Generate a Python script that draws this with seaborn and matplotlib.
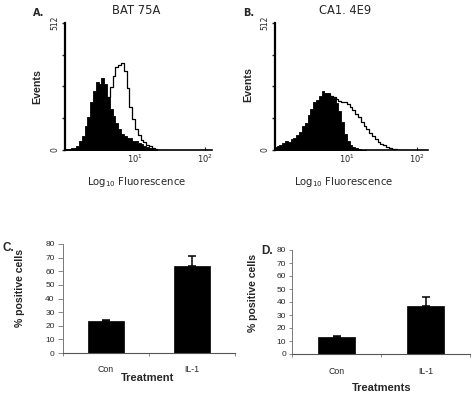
import numpy as np
import pandas as pd
import matplotlib
matplotlib.use("Agg")
import matplotlib.pyplot as plt
import seaborn as sns

# ---------------- data ----------------
bin_width = 0.04  # width of histogram channels in log10 units

# Panel A (BAT 75A): channel counts starting at log10 = 0.00
a_start = 0.0
a_filled = [5, 4, 7, 9, 17, 36, 56, 97, 133, 192, 238, 274, 266, 292, 268, 214, 166,
            138, 108, 86, 64, 58, 50, 47, 38, 35, 27, 23, 17, 12, 8, 3, 0]
a_open = [2, 2, 3, 4, 6, 10, 15, 22, 30, 40, 52, 68, 90, 115, 150, 214, 252, 298, 336,
          344, 352, 318, 248, 172, 124, 84, 62, 42, 31, 22, 15, 8, 4, 0]

# Panel B (CA1. 4E9): channel counts starting at log10 = -0.04
b_start = -0.04
b_filled = [12, 18, 22, 30, 36, 34, 44, 50, 62, 74, 98, 110, 142, 166, 192, 202, 218,
            236, 228, 230, 216, 210, 190, 158, 112, 66, 38, 20, 12, 8, 5, 2, 0]
b_open = [4, 6, 8, 10, 12, 15, 18, 22, 28, 36, 45, 55, 68, 85, 105, 125, 150, 175, 205,
          224, 219, 214, 204, 198, 195, 192, 186, 172, 160, 146, 133, 112, 98, 85, 70,
          56, 45, 34, 25, 19, 13, 10, 6, 3, 0]

hist_yticks = [0, 128, 256, 384, 512]
hist_yticklabels = ["0", "", "", "", "512"]
hist_xticks = [1, 2]
hist_xticklabels = [r"$10^1$", r"$10^2$"]

categories = ["Con", "IL-1"]
c_means = [23.5, 64.0]
c_err = [0.9, 7.4]
d_means = [13.0, 37.0]
d_err = [1.1, 6.9]
bar_yticks = [0, 10, 20, 30, 40, 50, 60, 70, 80]

# ---------------- figure ----------------
sns.set_theme(style="white")
plt.rcParams['font.family'] = ['DejaVu Sans']
plt.rcParams['mathtext.fontset'] = 'dejavusans'

W, H = 474, 394
fig = plt.figure(figsize=(W / 100, H / 100), dpi=100)
fig.patch.set_facecolor("white")


def box(x0, y_top, x1, y_bot):
    return [x0 / W, 1 - y_bot / H, (x1 - x0) / W, (y_bot - y_top) / H]


def ftxt(x, y, s, **kw):
    fig.text(x / W, 1 - y / H, s, ha="center", va="center", **kw)


def hist_panel(ax, start, filled, opened, xlim):
    nf = len(filled)
    no = len(opened)
    edges_f = [start + i * bin_width for i in range(nf + 1)]
    edges_o = [start + i * bin_width for i in range(no + 1)]
    cent_f = [start + (i + 0.5) * bin_width for i in range(nf)]
    cent_o = [start + (i + 0.5) * bin_width for i in range(no)]
    sns.histplot(x=cent_f, weights=filled, bins=edges_f, element="step", fill=True,
                 color="black", alpha=1, linewidth=0.6, edgecolor="black", ax=ax)
    sns.histplot(x=cent_o, weights=opened, bins=edges_o, element="step", fill=False,
                 color="black", linewidth=0.9, ax=ax)
    ax.set_xlim(*xlim)
    ax.set_ylim(0, 512)
    ax.set_xlabel("")
    ax.set_ylabel("")
    ax.set_yticks(hist_yticks)
    ax.set_yticklabels(hist_yticklabels, rotation=90, va="center", fontsize=5.5)
    ax.set_xticks(hist_xticks)
    ax.set_xticklabels(hist_xticklabels, fontsize=6)
    ax.tick_params(axis="y", direction="out", length=2.5, width=1.0, pad=1.5, left=True)
    ax.tick_params(axis="x", direction="in", length=2.5, width=0.8, pad=2, bottom=True)
    for s in ["top", "right"]:
        ax.spines[s].set_visible(False)
    ax.spines["left"].set_linewidth(1.6)
    ax.spines["left"].set_color("black")
    ax.spines["bottom"].set_linewidth(1.2)
    ax.spines["bottom"].set_color("black")
    ax.set_facecolor("white")


axA = fig.add_axes(box(65, 23, 212, 150))
hist_panel(axA, a_start, a_filled, a_open, (0.0, 2.1))
axB = fig.add_axes(box(275, 23, 428, 150))
hist_panel(axB, b_start, b_filled, b_open, (-0.024, 2.16))

# histogram texts
ftxt(136, 10, "BAT 75A", fontsize=8.3)
ftxt(345, 10, "CA1. 4E9", fontsize=8.3)
ftxt(39, 13, "A.", fontsize=7, fontweight="bold")
ftxt(249, 13, "B.", fontsize=7, fontweight="bold")
ftxt(37, 87, "Events", fontsize=7.7, fontweight="bold", rotation=90,
     family=["Liberation Sans"])
ftxt(248, 85, "Events", fontsize=7.7, fontweight="bold", rotation=90,
     family=["Liberation Sans"])
ftxt(137, 182, r"Log$_{10}$ Fluorescence", fontsize=7.3)
ftxt(344, 182, r"Log$_{10}$ Fluorescence", fontsize=7.3)


def bar_panel(ax, means, errs, tick_len, tick_pad):
    df = pd.DataFrame({"cat": categories, "val": means})
    sns.barplot(data=df, x="cat", y="val", color="black", saturation=1, width=0.42,
                edgecolor="black", linewidth=0.5, ax=ax)
    ax.errorbar(x=[0, 1], y=means, yerr=[[0, 0], errs], fmt="none", ecolor="black",
                elinewidth=1.1, capsize=2.8, capthick=1.1)
    ax.set_xlim(-0.5, 1.5)
    ax.set_ylim(0, 80)
    ax.set_xlabel("")
    ax.set_ylabel("")
    ax.set_yticks(bar_yticks)
    ax.set_yticklabels([str(v) for v in bar_yticks], fontsize=6,
                       family=["Liberation Sans"])
    ax.set_xticks([0, 1])
    ax.set_xticklabels(categories, fontsize=6.3, family=["Liberation Sans"])
    ax.set_xticks([-0.5, 0.5, 1.5], minor=True)
    ax.tick_params(axis="x", which="major", length=0, pad=9)
    ax.tick_params(axis="x", which="minor", direction="out", length=2.5, width=0.6,
                   color="#777777", bottom=True)
    ax.tick_params(axis="y", direction="out", length=tick_len, width=0.6,
                   color="#777777", pad=tick_pad, left=True)
    for s in ["top", "right"]:
        ax.spines[s].set_visible(False)
    ax.spines["left"].set_linewidth(0.7)
    ax.spines["left"].set_color("#777777")
    ax.spines["bottom"].set_linewidth(0.8)
    ax.spines["bottom"].set_color("#555555")
    ax.set_facecolor("white")


axC = fig.add_axes(box(63, 244, 235, 353))
bar_panel(axC, c_means, c_err, 3.5, 2.5)
axD = fig.add_axes(box(292, 250, 470, 354))
bar_panel(axD, d_means, d_err, 2.2, 2.0)

ftxt(8, 248, "C.", fontsize=8.5, fontweight="bold", family=["Liberation Sans"])
ftxt(267, 251, "D.", fontsize=8.5, fontweight="bold", family=["Liberation Sans"])
ftxt(20, 288, "% positive cells", fontsize=7.6, fontweight="bold", rotation=90,
     family=["Liberation Sans"])
ftxt(253, 293, "% positive cells", fontsize=7.6, fontweight="bold", rotation=90,
     family=["Liberation Sans"])
ftxt(148, 378, "Treatment", fontsize=8, fontweight="bold", family=["Liberation Sans"])
ftxt(382, 388, "Treatments", fontsize=8, fontweight="bold", family=["Liberation Sans"])

fig.savefig("out.png", dpi=100, facecolor="white")
